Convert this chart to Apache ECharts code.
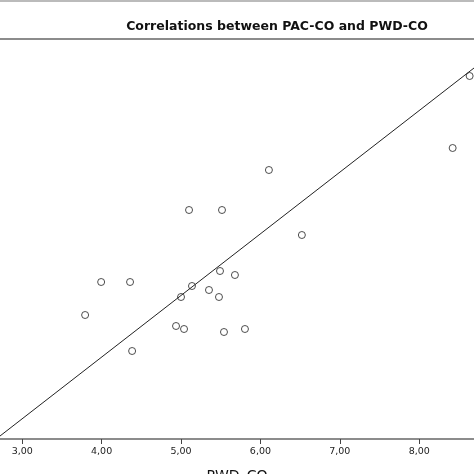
<!DOCTYPE html><html><head><meta charset="utf-8"><script src="https://cdn.jsdelivr.net/npm/echarts@6/dist/echarts.min.js"></script>
<style>html,body{margin:0;padding:0;background:#fff}#c{width:474px;height:474px}</style></head><body><div id="c"></div>
<script>
const xVals=[8.635,8.421,6.107,5.101,5.516,6.522,4.358,3.994,5.491,5.679,5.138,5.352,5.0,5.478,3.792,4.937,5.038,5.541,5.805,4.384];
const yVals=[363,291,269,229,229,204,157,157,168,164,153,149,142,142,124,113,110,107,110,88];
const fitX=[2.72,8.69];
const fitY=[3,371];
const xTicks=[3,4,5,6,7,8];
const chart=echarts.init(document.getElementById('c'));
chart.setOption({
 animation:false,
 title:{text:'Correlations between PAC-CO and PWD-CO',left:272,textAlign:'center',top:15,textStyle:{fontFamily:'DejaVu Sans',fontSize:12.5,fontWeight:'bold',color:'#111'}},
 graphic:[{type:'line',shape:{x1:0,y1:1,x2:474,y2:1},style:{stroke:'#bbb',lineWidth:2}},
          {type:'line',shape:{x1:0,y1:39,x2:474,y2:39},style:{stroke:'#666',lineWidth:1.5}}],
 grid:{left:0,right:0,top:39,bottom:35,containLabel:false,outerBoundsMode:'none'},
 xAxis:{type:'value',min:2.72,max:8.69,name:'PWD_CO',nameLocation:'middle',nameGap:30,nameTextStyle:{fontFamily:'DejaVu Sans',fontSize:14,color:'#111'},
  axisLine:{lineStyle:{color:'#666',width:1.5}},axisTick:{show:true,length:5,lineStyle:{color:'#444'},customValues:xTicks},
  axisLabel:{customValues:xTicks,formatter:v=>v.toFixed(2).replace('.',','),fontFamily:'DejaVu Sans',fontSize:9.5,color:'#222'},splitLine:{show:false}},
 yAxis:{type:'value',min:0,max:400,show:false},
 series:[
  {type:'line',data:fitX.map((x,i)=>[x,fitY[i]]),symbol:'none',lineStyle:{color:'#222',width:1}},
  {type:'scatter',data:xVals.map((x,i)=>[x,yVals[i]]),symbol:'circle',symbolSize:7,itemStyle:{color:'#fff',borderColor:'#222',borderWidth:1}}
 ]
});
</script></body></html>
